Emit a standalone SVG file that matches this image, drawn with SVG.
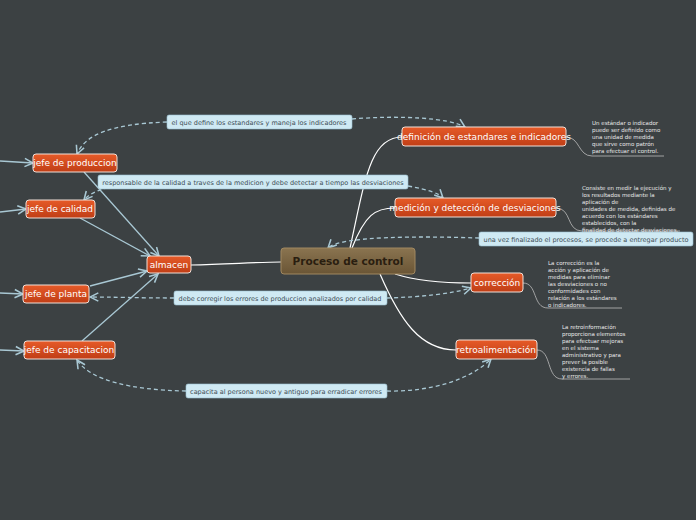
<svg xmlns="http://www.w3.org/2000/svg" width="696" height="520" viewBox="0 0 696 520">
<defs>
<linearGradient id="g" x1="0" y1="0" x2="0" y2="1"><stop offset="0" stop-color="#e65a28"/><stop offset="1" stop-color="#c03e16"/></linearGradient>
<linearGradient id="gc" x1="0" y1="0" x2="0" y2="1"><stop offset="0" stop-color="#8a7450"/><stop offset="1" stop-color="#6a5535"/></linearGradient>
<marker id="a" viewBox="0 0 10 10" refX="9" refY="5" markerWidth="8" markerHeight="8" orient="auto"><path d="M1,1 L9,5 L1,9" fill="none" stroke="#a9c8d4" stroke-width="1.5"/></marker>
</defs>
<style>
.n{fill:url(#g);stroke:#f0e0d8;stroke-width:1}
.t{font-family:"DejaVu Sans",sans-serif;font-size:9px;fill:#fff}
.l{fill:#cfe9f3;stroke:#9cc3d3;stroke-width:.6}
.lt{font-family:"DejaVu Sans",sans-serif;font-size:6.5px;fill:#3d4d55}
.s{fill:none;stroke:#a9c8d4;stroke-width:1.3}
.w{fill:none;stroke:#fff;stroke-width:1.2}
.d{fill:none;stroke:#a9c8d4;stroke-width:1.3;stroke-dasharray:4 3}
.nt{font-family:"DejaVu Sans",sans-serif;font-size:5.5px;fill:#e8e8e8}
.u{fill:none;stroke:#bbb;stroke-width:.8}
</style>
<rect width="696" height="520" fill="#3c4143"/>
<g id="connectors">
<path class="w" d="M350,248 C365,180 370,137 402,137"/>
<path class="w" d="M352,248 C365,215 375,208 395,208"/>
<path class="w" d="M395,274 C420,282 450,283 471,283"/>
<path class="w" d="M380,274 C400,320 420,350 456,350"/>
<path class="w" d="M191,265 C230,264 260,262 281,262"/>
<path class="s" d="M0,161 L33,163" marker-end="url(#a)"/>
<path class="s" d="M0,212 L26,209" marker-end="url(#a)"/>
<path class="s" d="M0,293 L23,294" marker-end="url(#a)"/>
<path class="s" d="M0,350 L24,351" marker-end="url(#a)"/>
<path class="s" d="M84,172 L159,256" marker-end="url(#a)"/>
<path class="s" d="M80,218 L150,256" marker-end="url(#a)"/>
<path class="s" d="M90,286 L147,271" marker-end="url(#a)"/>
<path class="s" d="M82,341 L158,274" marker-end="url(#a)"/>
<path class="d" d="M167,122 C110,124 85,135 77,154" marker-end="url(#a)"/>
<path class="d" d="M352,119 C400,115 450,118 465,127" marker-end="url(#a)"/>
<path class="d" d="M115,186 C100,189 90,193 84,200" marker-end="url(#a)"/>
<path class="d" d="M408,186 C430,190 438,193 443,198" marker-end="url(#a)"/>
<path class="d" d="M479,238 C420,236 340,236 328,248" marker-end="url(#a)"/>
<path class="d" d="M174,298 C140,298 110,297 90,297" marker-end="url(#a)"/>
<path class="d" d="M387,298 C420,297 450,294 471,288" marker-end="url(#a)"/>
<path class="d" d="M186,391 C130,390 90,380 77,360" marker-end="url(#a)"/>
<path class="d" d="M387,391 C430,392 470,380 491,359" marker-end="url(#a)"/>
<path class="u" d="M566,137 C580,137 578,156 592,156 L664,156"/>
<path class="u" d="M556,208 C572,208 566,231 582,231 L680,231"/>
<path class="u" d="M523,283 C538,283 532,308 548,308 L622,308"/>
<path class="u" d="M537,350 C552,350 546,379 562,379 L630,379"/>
</g>
<g id="center"><rect x="281" y="248" width="134" height="26" rx="3" fill="url(#gc)" stroke="#a08860"/><text x="348" y="265" text-anchor="middle" font-family="DejaVu Sans,sans-serif" font-size="10.5" font-weight="bold" fill="#2a1e10">Proceso de control</text></g>
<g id="definicion"><rect class="n" x="402" y="127" width="164" height="19" rx="3"/><text class="t" x="484" y="140" text-anchor="middle">definición de estandares e indicadores</text></g>
<g id="medicion"><rect class="n" x="395" y="198" width="161" height="19" rx="3"/><text class="t" x="475" y="211" text-anchor="middle">medición y detección de desviaciones</text></g>
<g id="correccion"><rect class="n" x="471" y="273" width="52" height="19" rx="3"/><text class="t" x="497" y="286" text-anchor="middle">corrección</text></g>
<g id="retro"><rect class="n" x="456" y="340" width="81" height="19" rx="3"/><text class="t" x="496" y="353" text-anchor="middle">retroalimentación</text></g>
<g id="almacen"><rect class="n" x="147" y="256" width="44" height="17" rx="3"/><text class="t" x="169" y="268" text-anchor="middle">almacen</text></g>
<g id="produccion"><rect class="n" x="33" y="154" width="84" height="18" rx="3"/><text class="t" x="75" y="166" text-anchor="middle">jefe de produccion</text></g>
<g id="calidad"><rect class="n" x="26" y="200" width="69" height="18" rx="3"/><text class="t" x="60" y="212" text-anchor="middle">jefe de calidad</text></g>
<g id="planta"><rect class="n" x="23" y="285" width="66" height="18" rx="3"/><text class="t" x="56" y="297" text-anchor="middle">jefe de planta</text></g>
<g id="capacitacion"><rect class="n" x="24" y="341" width="91" height="18" rx="3"/><text class="t" x="69" y="353" text-anchor="middle">jefe de capacitacion</text></g>
<g id="lab1"><rect class="l" x="167" y="115" width="185" height="14" rx="2"/><text class="lt" x="259" y="124.5" text-anchor="middle">el que define los estandares y maneja los indicadores</text></g>
<g id="lab2"><rect class="l" x="98" y="175" width="310" height="14" rx="2"/><text class="lt" x="253" y="184.5" text-anchor="middle">responsable de la calidad a traves de la medicion y debe detectar a tiempo las desviaciones</text></g>
<g id="lab3"><rect class="l" x="479" y="232" width="214" height="14" rx="2"/><text class="lt" x="586" y="241.5" text-anchor="middle">una vez finalizado el procesos, se procede a entregar producto</text></g>
<g id="lab4"><rect class="l" x="174" y="291" width="213" height="14" rx="2"/><text class="lt" x="280" y="300.5" text-anchor="middle">debe corregir los errores de produccion analizados por calidad</text></g>
<g id="lab5"><rect class="l" x="186" y="384" width="201" height="14" rx="2"/><text class="lt" x="286" y="393.5" text-anchor="middle">capacita al persona nuevo y antiguo para erradicar errores</text></g>
<g id="note1"><text class="nt"><tspan x="592" y="125">Un estándar o indicador</tspan><tspan x="592" y="132">puede ser definido como</tspan><tspan x="592" y="139">una unidad de medida</tspan><tspan x="592" y="146">que sirve como patrón</tspan><tspan x="592" y="153">para efectuar el control.</tspan></text></g>
<g id="note2"><text class="nt"><tspan x="582" y="190">Consiste en medir la ejecución y</tspan><tspan x="582" y="197">los resultados mediante la</tspan><tspan x="582" y="204">aplicación de</tspan><tspan x="582" y="211">unidades de medida, definidas de</tspan><tspan x="582" y="218">acuerdo con los estándares</tspan><tspan x="582" y="225">establecidos, con la</tspan><tspan x="582" y="232">finalidad de detectar desviaciones.</tspan></text></g>
<g id="note3"><text class="nt"><tspan x="548" y="265">La corrección es la</tspan><tspan x="548" y="272">acción y aplicación de</tspan><tspan x="548" y="279">medidas para eliminar</tspan><tspan x="548" y="286">las desviaciones o no</tspan><tspan x="548" y="293">conformidades con</tspan><tspan x="548" y="300">relación a los estándares</tspan><tspan x="548" y="307">o indicadores.</tspan></text></g>
<g id="note4"><text class="nt"><tspan x="562" y="329">La retroinformación</tspan><tspan x="562" y="336">proporciona elementos</tspan><tspan x="562" y="343">para efectuar mejoras</tspan><tspan x="562" y="350">en el sistema</tspan><tspan x="562" y="357">administrativo y para</tspan><tspan x="562" y="364">prever la posible</tspan><tspan x="562" y="371">existencia de fallas</tspan><tspan x="562" y="378">y errores.</tspan></text></g>
</svg>
